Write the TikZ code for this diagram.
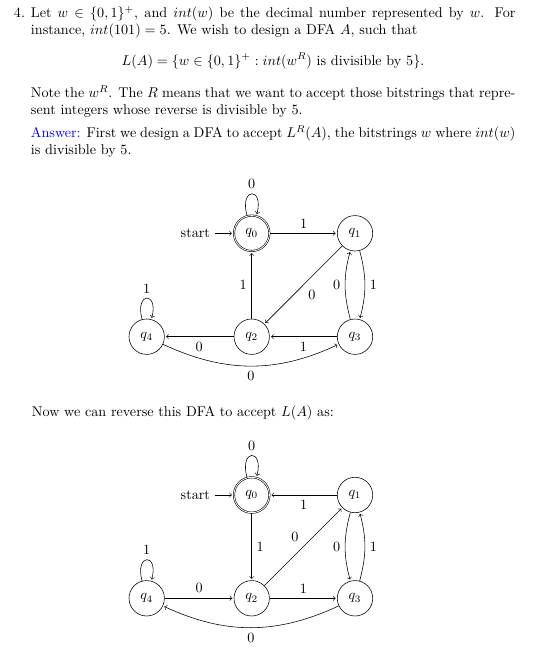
\documentclass[tikz,border=0pt]{standalone}
\usepackage{amsmath}
\usepackage{xcolor}
\usetikzlibrary{automata}
\newcommand{\justline}[1]{\makebox[342pt][s]{#1}}
\begin{document}
\begin{tikzpicture}[x=0.706pt, y=0.706pt, >=to, shorten >=1pt, auto,
    txt/.style={anchor=base west, inner sep=0pt},
    every accepting state/.style={draw=black!60, double distance=0.7pt}]
    \useasboundingbox (0,0) rectangle (545,671);

    \node [anchor=base east, inner sep=0pt] (num) at (25.3,653.7) {4.};
    \node [txt] (l1) at (30.7,653.7) {\justline{Let $w \in \{0,1\}^+$, and $int(w)$ be the decimal number represented by $w$. For}};
    \node [txt] (l2) at (30.7,636.7) {instance, $int(101) = 5$. We wish to design a DFA $A$, such that};
    \node [anchor=base, inner sep=0pt] (lang) at (273,605.5) {$\displaystyle L(A) = \{w \in \{0,1\}^+ : int(w^R) \text{ is divisible by } 5\}.$};
    \node [txt] (l4) at (30.7,573.3) {\justline{Note the $w^R$. The $R$ means that we want to accept those bitstrings that repre-}};
    \node [txt] (l5) at (30.7,556.3) {sent integers whose reverse is divisible by 5.};
    \node [txt] (l6) at (30.7,533.7) {\justline{\textcolor{blue}{Answer:} First we design a DFA to accept $L^R(A)$, the bitstrings $w$ where $int(w)$}};
    \node [txt] (l7) at (30.7,516.7) {is divisible by 5.};

    \node [state, initial, accepting] (q0) at (251.7,437.7) {$q_0$};
    \node [state] (q1) at (355,437.7) {$q_1$};
    \node [state] (q2) at (251.7,334.3) {$q_2$};
    \node [state] (q3) at (355,334.3) {$q_3$};
    \node [state] (q4) at (146.7,334.3) {$q_4$};

    \path [->] (q0) edge [loop above] node {0} ()
                    edge node {1} (q1)
               (q1) edge [bend left=15] node {1} (q3)
                    edge node {0} (q2)
               (q2) edge node {1} (q0)
                    edge node {0} (q4)
               (q3) edge [bend left=15] node {0} (q1)
                    edge node {1} (q2)
               (q4) edge [loop above] node {1} ()
                    edge [bend right=25] node [swap] {0} (q3);

    \node [txt] (l8) at (31.7,254.3) {Now we can reverse this DFA to accept $L(A)$ as:};

    \node [state, initial, accepting] (r0) at (251.7,176) {$q_0$};
    \node [state] (r1) at (355,176) {$q_1$};
    \node [state] (r2) at (251.7,72.7) {$q_2$};
    \node [state] (r3) at (355,72.7) {$q_3$};
    \node [state] (r4) at (146.7,72.7) {$q_4$};

    \path [->] (r0) edge [loop above] node {0} ()
                    edge node {1} (r2)
               (r1) edge node {1} (r0)
                    edge [bend right=15] node [swap] {0} (r3)
               (r2) edge node {0} (r1)
                    edge node {1} (r3)
               (r3) edge [bend right=15] node [swap] {1} (r1)
                    edge [bend left=25] node {0} (r4)
               (r4) edge [loop above] node {1} ()
                    edge node {0} (r2);
\end{tikzpicture}
\end{document}
